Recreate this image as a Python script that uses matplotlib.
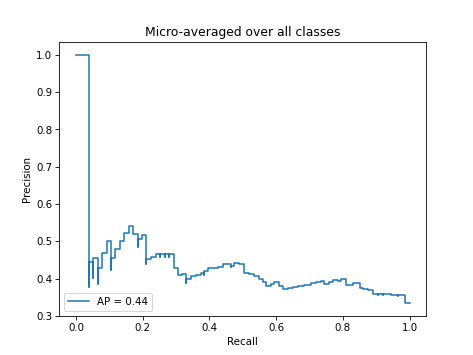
import matplotlib
matplotlib.use("Agg")
import matplotlib.pyplot as plt

# Points in increasing recall order; each (recall, precision) ends a horizontal
# step at that precision (drawn with steps-pre). Repeated recall = vertical spike.
recall = [
    0.0, 0.038, 0.038, 0.050, 0.050, 0.065, 0.065, 0.077, 0.092, 0.105, 0.105,
    0.118, 0.132, 0.145, 0.158, 0.172, 0.185, 0.185, 0.198, 0.211, 0.211,
    0.225, 0.240, 0.253, 0.253, 0.266, 0.266, 0.279, 0.279, 0.293,
    0.305, 0.318, 0.330, 0.330, 0.345, 0.360, 0.375, 0.385, 0.385, 0.395,
    0.410, 0.425, 0.440, 0.450, 0.465, 0.465, 0.475, 0.490, 0.505,
    0.520, 0.535, 0.550, 0.560, 0.570, 0.585, 0.595, 0.610, 0.620, 0.635,
    0.650, 0.665, 0.685, 0.705, 0.720, 0.735, 0.745, 0.760, 0.770, 0.785,
    0.795, 0.810, 0.830, 0.850, 0.860, 0.875, 0.890, 0.905, 0.905, 0.920,
    0.920, 0.935, 0.945, 0.965, 0.965, 0.985, 1.000,
]
precision = [
    1.000, 1.000, 0.378, 0.443, 0.402, 0.456, 0.385, 0.429, 0.468, 0.501, 0.423,
    0.455, 0.478, 0.500, 0.522, 0.542, 0.520, 0.485, 0.505, 0.516, 0.440,
    0.452, 0.458, 0.466, 0.458, 0.466, 0.458, 0.467, 0.459, 0.467,
    0.428, 0.410, 0.412, 0.387, 0.400, 0.407, 0.410, 0.416, 0.410, 0.421,
    0.427, 0.429, 0.432, 0.438, 0.438, 0.432, 0.434, 0.441, 0.439,
    0.416, 0.412, 0.407, 0.400, 0.391, 0.380, 0.385, 0.391, 0.380, 0.371,
    0.374, 0.376, 0.380, 0.382, 0.387, 0.391, 0.394, 0.386, 0.390, 0.396,
    0.394, 0.398, 0.383, 0.389, 0.374, 0.371, 0.368, 0.358, 0.355, 0.358,
    0.355, 0.358, 0.358, 0.356, 0.353, 0.356, 0.333,
]
ap_label = "AP = 0.44"

fig, ax = plt.subplots(figsize=(6.4, 4.8), dpi=74)
ax.plot(recall, precision, drawstyle="steps-pre", color="C0", label=ap_label)
ax.set_xlabel("Recall")
ax.set_ylabel("Precision")
ax.set_title("Micro-averaged over all classes")
ax.legend(loc="lower left")
fig.savefig("out.png", dpi=74)
